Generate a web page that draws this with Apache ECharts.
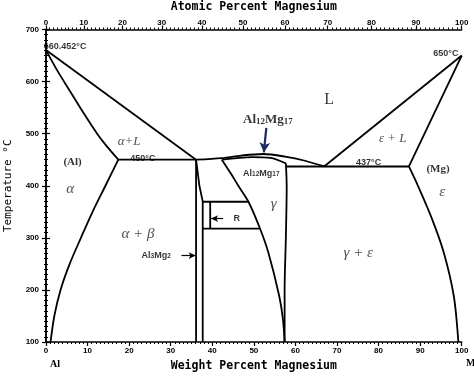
<!DOCTYPE html>
<html><head><meta charset="utf-8">
<style>html,body{margin:0;padding:0;background:#fff}#c{width:474px;height:376px}</style>
<script src="https://cdn.jsdelivr.net/npm/echarts@6/dist/echarts.min.js"></script>
</head><body><div id="c"></div>
<script>
// atomic masses used to convert atomic % to weight %
const M_MG = 24.305, M_AL = 26.982;
const atomicTickLabels = [0,10,20,30,40,50,60,70,80,90,100];
const atomicMinor = Array.from({length:101},(_, i)=>i);
const weightRange = [0,100];
const tempRange = [100,700];

// phase boundaries: [weight % Mg, temperature °C]
const alLiquidus   = [[0,660.45],[36.1,450]];
const alSolidus    = [[0,660.45],[2.8,620],[5.9,580],[9.0,540],[12.3,500],[14.7,475],[17.4,450]];
const alEutectic   = [[17.4,450],[36.1,450]];
const alSolvus     = [[17.4,450],[14.3,400],[11.2,350],[8.4,300],[5.7,250],[3.5,200],[2.0,150],[1.1,100]];
const betaLeft     = [[36.1,450],[36.1,100]];
const betaRight    = [[36.1,450],[36.9,400],[37.7,370],[37.7,100]];
const rTop         = [[37.7,369.3],[48.7,369.3]];
const rBottom      = [[37.7,317.5],[51.5,317.5]];
const rLeft        = [[39.5,369.3],[39.5,317.5]];
const domeLiquidus = [[36.1,450],[42.3,453],[47,458],[52.3,461],[57.5,456],[62.3,448],[66.9,437]];
const gammaSolidus = [[42.3,450],[49.5,455],[54,453.5],[57.7,443]];
const gammaLeft    = [[42.3,450],[44.7,420.5],[46.3,399.4],[48.7,369.3],[51.5,317.5],[53.5,271.4],[56.1,188.3],[57.0,143.6],[57.4,100]];
const gammaRight   = [[57.7,443],[57.9,400],[57.7,300],[57.4,200],[57.4,100]];
const mgEutectic   = [[57.7,437],[87.3,437]];
const mgLiquidus   = [[66.9,437],[100,650]];
const mgSolidus    = [[87.3,437],[100,650]];
const mgSolvus     = [[87.3,437],[89.5,399.4],[92.9,335.5],[95.7,271.4],[98.1,188.3],[99.2,100]];

// pointer arrows: [from, to]
const al3mg2Arrow = [[32.6,266],[36.0,266]];
const rArrow      = [[42.6,337],[39.7,337]];
const al12Arrow   = [[53.0,511],[52.4,464]];

// annotations
const annTexts = ['660.452°C','650°C','450°C','437°C','(Al)','(Mg)','α','ε','γ','α + β','γ + ε','α+L','ε + L','L',
  'Al{s|12}Mg{s|17}','Al{s|3}Mg{s|2}','Al{s|12}Mg{s|17}','R'];
const annAt = [[4.6,667],[96.2,654],[23.3,453],[77.6,444],[6.4,446],[94.3,432],[5.8,394],[95.3,388],[54.8,365],
  [22.1,307],[75.1,271],[20.0,484],[83.4,491],[68.1,565],[53.4,526],[26.5,266],[51.8,424],[45.9,337]];
const annKind = ['temp','temp','temp','temp','paren','paren','greek','greek','greek','greek','greek','greekS','greekS','big',
  'al12','small','small','small'];

const kindStyle = {
  temp:  {fontFamily:'Liberation Sans', fontWeight:'bold', fontSize:9, color:'#000'},
  paren: {fontFamily:'Liberation Serif', fontWeight:'bold', fontSize:11, color:'#000'},
  greek: {fontFamily:'Liberation Serif', fontStyle:'italic', fontSize:15, color:'#222'},
  greekS:{fontFamily:'Liberation Serif', fontStyle:'italic', fontSize:13, color:'#222'},
  big:   {fontFamily:'Liberation Serif', fontSize:16, color:'#000'},
  al12:  {fontFamily:'Liberation Serif', fontWeight:'bold', fontSize:13, color:'#000',
          rich:{s:{fontFamily:'Liberation Serif', fontWeight:'bold', fontSize:9, verticalAlign:'bottom', lineHeight:8}}},
  small: {fontFamily:'Liberation Sans', fontWeight:'bold', fontSize:9, color:'#000',
          rich:{s:{fontFamily:'Liberation Sans', fontWeight:'bold', fontSize:6.5, verticalAlign:'bottom', lineHeight:6}}}
};

function wtFromAt(a){ const m=a*M_MG, l=(100-a)*M_AL; return 100*m/(m+l); }
function atFromWt(w){ const m=w/M_MG, l=(100-w)/M_AL; return 100*m/(m+l); }

const chart = echarts.init(document.getElementById('c'), null, {renderer:'canvas'});
const gridRect = {left:46, right:12.3, top:29.5, bottom:34, outerBoundsMode:'none', containLabel:false};
const monoTitle = {fontFamily:'DejaVu Sans Mono', fontWeight:'bold', fontSize:11.5, color:'#000'};
const tickFont = {fontFamily:'Liberation Sans', fontWeight:'bold', fontSize:8, color:'#000'};
const axLine = {show:true, lineStyle:{color:'#000', width:1.5}};

function line(data, smooth){
  return {type:'line', data, symbol:'none', smooth: smooth ? 0.3 : false, silent:true, animation:false,
    xAxisIndex:0, yAxisIndex:0, lineStyle:{color:'#000', width:1.8}};
}
function arrow(pts, color, width, size){
  return {type:'line', data:[], xAxisIndex:0, yAxisIndex:0, silent:true, animation:false,
    markLine:{silent:true, animation:false, symbol:['none','arrow'], symbolSize:size, label:{show:false},
      lineStyle:{color, width, type:'solid'}, emphasis:{disabled:true},
      data:[[{coord:pts[0]},{coord:pts[1]}]]}};
}

const series = [
  line(alLiquidus), line(alSolidus,true), line(alEutectic), line(alSolvus,true),
  line(betaLeft), line(betaRight), line(rTop), line(rBottom), line(rLeft),
  line(domeLiquidus,true), line(gammaSolidus,true), line(gammaLeft,true), line(gammaRight,true),
  line(mgEutectic), line(mgLiquidus), line(mgSolidus), line(mgSolvus,true),
  arrow(al3mg2Arrow,'#000',1.2,[5,7]), arrow(rArrow,'#000',1.2,[5,7]), arrow(al12Arrow,'#1d2b5e',2.2,[8,10]),
  {type:'scatter', symbolSize:0, silent:true, animation:false, xAxisIndex:0, yAxisIndex:0,
    data: annTexts.map((t,i)=>({value:annAt[i],
      label:Object.assign({show:true, position:'inside', formatter:t}, kindStyle[annKind[i]])}))}
];

chart.setOption({
  animation:false,
  backgroundColor:'#fff',
  grid:[Object.assign({}, gridRect), Object.assign({}, gridRect)],
  xAxis:[
    {type:'value', gridIndex:0, position:'bottom', min:weightRange[0], max:weightRange[1], interval:10,
      axisLine:axLine, splitLine:{show:false},
      axisTick:{show:true, length:4, lineStyle:{color:'#000', width:1.2}},
      minorTick:{show:true, splitNumber:10, length:2, lineStyle:{color:'#000', width:1}},
      axisLabel:Object.assign({margin:5}, tickFont),
      name:'Weight Percent Magnesium', nameLocation:'middle', nameGap:16, nameTextStyle:monoTitle},
    {type:'value', gridIndex:0, position:'top', min:weightRange[0], max:weightRange[1],
      axisLine:axLine, splitLine:{show:false},
      axisTick:{show:true, length:4, customValues: atomicTickLabels.map(wtFromAt), lineStyle:{color:'#000', width:1.2}},
      axisLabel:Object.assign({margin:3, customValues: atomicTickLabels.map(wtFromAt),
        formatter:v=>String(Math.round(atFromWt(v)))}, tickFont),
      name:'Atomic Percent Magnesium', nameLocation:'middle', nameGap:16, nameTextStyle:monoTitle},
    {type:'value', gridIndex:1, position:'top', min:weightRange[0], max:weightRange[1],
      axisLine:{show:false}, splitLine:{show:false}, axisLabel:{show:false},
      axisTick:{show:true, length:2, customValues: atomicMinor.map(wtFromAt), lineStyle:{color:'#000', width:1}}}
  ],
  yAxis:[
    {type:'value', gridIndex:0, position:'left', min:tempRange[0], max:tempRange[1], interval:100,
      axisLine:axLine, splitLine:{show:false},
      axisTick:{show:true, length:4, lineStyle:{color:'#000', width:1.2}},
      minorTick:{show:true, splitNumber:10, length:2, lineStyle:{color:'#000', width:1}},
      axisLabel:Object.assign({margin:7}, tickFont),
      name:'Temperature °C', nameLocation:'middle', nameGap:32,
      nameTextStyle:{fontFamily:'DejaVu Sans Mono', fontSize:11, color:'#000'}},
    {type:'value', gridIndex:0, position:'right', min:tempRange[0], max:tempRange[1], interval:100,
      axisLine:axLine, splitLine:{show:false}, axisLabel:{show:false},
      axisTick:{show:true, length:4, lineStyle:{color:'#000', width:1.2}},
      minorTick:{show:true, splitNumber:10, length:2, lineStyle:{color:'#000', width:1}}},
    {type:'value', gridIndex:1, show:false, min:tempRange[0], max:tempRange[1]}
  ],
  graphic:[
    {type:'text', left:50, top:359, style:{text:'Al', font:'bold 10px "Liberation Serif"', fill:'#000'}},
    {type:'text', left:466, top:358, style:{text:'Mg', font:'bold 10px "Liberation Serif"', fill:'#000'}}
  ],
  series
});
</script></body></html>
